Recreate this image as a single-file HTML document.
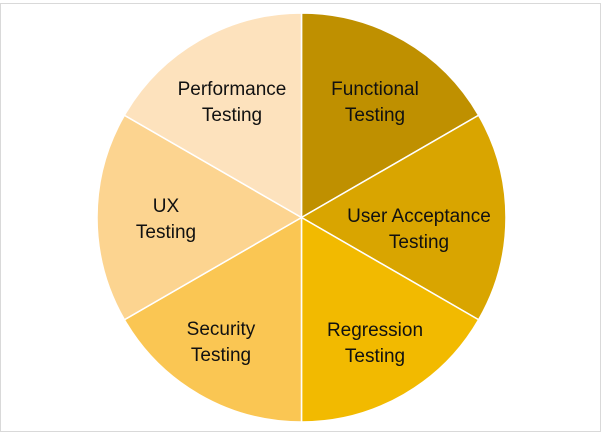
<!DOCTYPE html>
<html><head><style>
html,body{margin:0;padding:0;background:#fff;}
svg{display:block;}
text{font-family:"Liberation Sans",sans-serif;font-size:19px;fill:#111;text-anchor:middle;}
</style></head><body>
<svg width="602" height="436" viewBox="0 0 602 436">
<rect x="0.5" y="3.5" width="600" height="428" fill="#fff" stroke="#d9d9d9"/>
<g stroke="#fff" stroke-width="1.5">
<path d="M301.5,217.5 L301.5,13 A204.5,204.5 0 0 1 478.6,115.25 Z" fill="#BF9000"/>
<path d="M301.5,217.5 L478.6,115.25 A204.5,204.5 0 0 1 478.6,319.75 Z" fill="#D9A500"/>
<path d="M301.5,217.5 L478.6,319.75 A204.5,204.5 0 0 1 301.5,422 Z" fill="#F2BA00"/>
<path d="M301.5,217.5 L301.5,422 A204.5,204.5 0 0 1 124.4,319.75 Z" fill="#FAC653"/>
<path d="M301.5,217.5 L124.4,319.75 A204.5,204.5 0 0 1 124.4,115.25 Z" fill="#FCD490"/>
<path d="M301.5,217.5 L124.4,115.25 A204.5,204.5 0 0 1 301.5,13 Z" fill="#FDE2BD"/>
</g>
<text x="375" y="95">Functional</text><text x="375" y="121">Testing</text>
<text x="419" y="222">User Acceptance</text><text x="419" y="248">Testing</text>
<text x="375" y="336">Regression</text><text x="375" y="362">Testing</text>
<text x="221" y="335">Security</text><text x="221" y="361">Testing</text>
<text x="166" y="212">UX</text><text x="166" y="238">Testing</text>
<text x="232" y="95">Performance</text><text x="232" y="121">Testing</text>
</svg>
</body></html>
